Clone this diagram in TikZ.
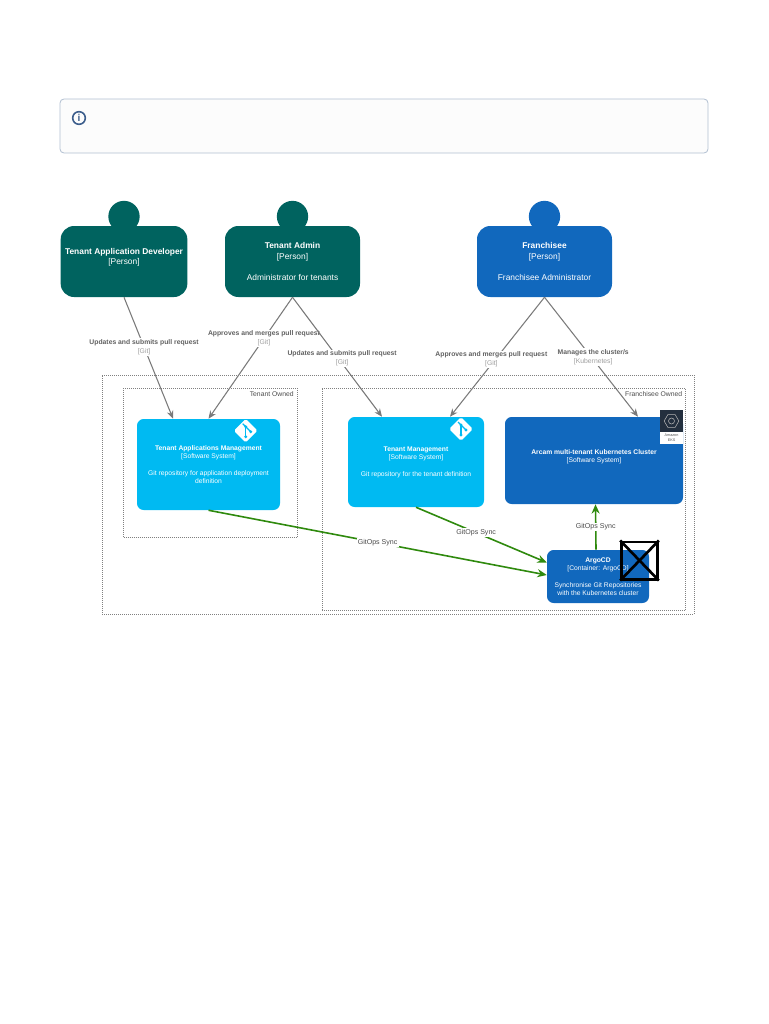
\documentclass[tikz,border=0pt]{standalone}
\usepackage{fontspec}
\setmainfont{Liberation Sans}
\usetikzlibrary{arrows.meta,shapes.geometric}
\definecolor{tealbox}{HTML}{00635F}
\definecolor{bluebox}{HTML}{1168BD}
\definecolor{skybox}{HTML}{00BAF2}
\definecolor{edgegrey}{HTML}{7A7A7A}
\definecolor{syncgreen}{HTML}{2F8A0E}
\definecolor{infoblue}{HTML}{3D5E8C}
\definecolor{eksdark}{HTML}{232F3E}
\begin{document}
\begin{tikzpicture}[x=0.75pt,y=-0.75pt,
head/.style = {circle, minimum size=23.5pt, inner sep=0pt},
person/.style = {rounded corners=10pt, minimum height=53.25pt, inner sep=0pt, align=center, text=white, font=\fontsize{6.3}{7.9}\selectfont},
system/.style = {rounded corners=5pt, inner sep=0pt, align=center, text=white, font=\fontsize{5.05}{6.3}\selectfont},
zone/.style = {draw=black!50, densely dotted, line width=0.5pt},
zonetag/.style = {anchor=north east, inner sep=2.5pt, text=black!70, font=\fontsize{5.1}{6.5}\selectfont},
rel/.style = {draw=edgegrey, line width=0.8pt, -{Stealth[length=6pt,width=5pt]}},
sync/.style = {draw=syncgreen, line width=1.2pt, -{Stealth[length=7pt,width=6pt]}},
tag/.style = {fill=white, inner sep=0.8pt, align=center, text=black!62, font=\fontsize{5.1}{6.6}\selectfont},
synctag/.style = {fill=white, inner sep=0.8pt, text=black!70, font=\fontsize{5.3}{6.5}\selectfont}]
\useasboundingbox (0,0) rectangle (768,1024);
\node[draw=infoblue!40, fill=black!1, rounded corners=3pt, line width=0.6pt, minimum width=486pt, minimum height=40.5pt] (info) at (384,126) {};
\node[circle, draw=infoblue, line width=1.2pt, minimum size=9.5pt, inner sep=0pt, text=infoblue, font=\bfseries\fontsize{7.5}{7.5}\selectfont] (infoicon) at (79,118) {i};
\node[head, fill=tealbox] (devhead) at (124,216.5) {};
\node[head, fill=tealbox] (adminhead) at (292.5,216.5) {};
\node[head, fill=bluebox] (franhead) at (544.5,216.5) {};
\node[person, fill=tealbox, minimum width=95pt] (dev) at (124,261.5) {\textbf{Tenant Application Developer}\\{[Person]}\\\mbox{}};
\node[person, fill=tealbox, minimum width=101.25pt] (admin) at (292.5,261.5) {\textbf{Tenant Admin}\\{[Person]}\\\mbox{}\\Administrator for tenants};
\node[person, fill=bluebox, minimum width=101.25pt] (fran) at (544.5,261.5) {\textbf{Franchisee}\\{[Person]}\\\mbox{}\\Franchisee Administrator};
\node[zone, minimum width=444pt, minimum height=179.25pt] (outer) at (398,494.5) {};
\node[zone, minimum width=130pt, minimum height=111.75pt] (tenantzone) at (210.25,462.5) {};
\node[zone, minimum width=272.6pt, minimum height=166.5pt] (franzone) at (503.75,499) {};
\node[zonetag] (tenanttag) at (tenantzone.north east) {Tenant Owned};
\node[zonetag] (frantag) at (franzone.north east) {Franchisee Owned};
\node[system, fill=skybox, minimum width=107.25pt, minimum height=68.25pt] (apps) at (208.5,464.5) {\textbf{Tenant Applications Management}\\{[Software System]}\\\mbox{}\\Git repository for application deployment\\definition};
\node[system, fill=skybox, minimum width=102pt, minimum height=67.5pt] (mgmt) at (416,462) {\textbf{Tenant Management}\\{[Software System]}\\\mbox{}\\Git repository for the tenant definition};
\node[system, fill=bluebox, minimum width=133.5pt, minimum height=65.25pt] (arcam) at (594,460.5) {\textbf{Arcam multi-tenant Kubernetes Cluster}\\{[Software System]}\\\mbox{}};
\node[system, fill=bluebox, minimum width=76.5pt, minimum height=39.75pt] (argo) at (598,576.5) {\textbf{ArgoCD}\\{[Container: ArgoCD]}\\\mbox{}\\Synchronise Git Repositories\\with the Kubernetes cluster};
\foreach \gitx/\gity in {245.7/430.7,461/429} {
\begin{scope}[shift={(\gitx,\gity)}]
\node[rectangle, rotate=45, fill=white, rounded corners=1.2pt, minimum size=12.5pt, inner sep=0pt] (git) at (0,0) {};
\draw[skybox, line width=0.8pt] (-3,-7) -- (5,1);
\draw[skybox, line width=0.8pt] (0,-4) -- (0,6);
\fill[skybox] (0,-4) circle (1.6) (0,6) circle (1.6) (5,1) circle (1.6);
\end{scope}
}
\node[fill=white, minimum width=17.25pt, minimum height=25.5pt, inner sep=0pt] (ekslabel) at (671.5,427) {};
\node[fill=eksdark, minimum width=17.25pt, minimum height=16.5pt, inner sep=0pt] (eksicon) at (671.5,421) {};
\node[regular polygon, regular polygon sides=6, draw=white!70!black, line width=0.4pt, minimum size=11pt, inner sep=0pt] (ekshex) at (671.5,421) {};
\node[circle, draw=white!70!black, line width=0.4pt, minimum size=4.5pt, inner sep=0pt] (ekscore) at (671.5,421) {};
\node[align=center, inner sep=0pt, text=black!70, font=\fontsize{2.8}{3.5}\selectfont] (ekstext) at (671.5,438) {Amazon\\EKS};
\draw[rel] (dev.south) -- node[tag, pos=.41] {\textbf{Updates and submits pull request}\\\textcolor{black!38}{[Git]}} ([shift={(-35.5,0)}]apps.north);
\draw[rel] (admin.south) -- node[tag, pos=.34] {\textbf{Approves and merges pull request}\\\textcolor{black!38}{[Git]}} (apps.north);
\draw[rel] (admin.south) -- node[tag, pos=.51, xshift=3pt] {\textbf{Updates and submits pull request}\\\textcolor{black!38}{[Git]}} ([shift={(-34,0)}]mgmt.north);
\draw[rel] (fran.south) -- node[tag, pos=.52, xshift=-3pt] {\textbf{Approves and merges pull request}\\\textcolor{black!38}{[Git]}} ([shift={(34,0)}]mgmt.north);
\draw[rel] (fran.south) -- node[tag, pos=.5, xshift=1.5pt] {\textbf{Manages the cluster/s}\\\textcolor{black!38}{[Kubernetes]}} ([shift={(44,0)}]arcam.north);
\draw[sync] (apps.south) -- node[synctag, pos=.5] {GitOps Sync} ([shift={(0,-1.5)}]argo.west);
\draw[sync] (mgmt.south) -- node[synctag, pos=.46] {GitOps Sync} ([shift={(0,-14)}]argo.west);
\draw[sync] ([shift={(-2,0)}]argo.north) -- node[synctag] {GitOps Sync} ([shift={(1.5,0)}]arcam.south);
\node[draw=black, line width=2pt, minimum width=27pt, minimum height=28pt, inner sep=0pt] (broken) at (639.5,560.5) {};
\draw[black, line width=2pt] (broken.north west) -- (broken.south east);
\draw[black, line width=2pt] (broken.north east) -- (broken.south west);
\end{tikzpicture}
\end{document}
